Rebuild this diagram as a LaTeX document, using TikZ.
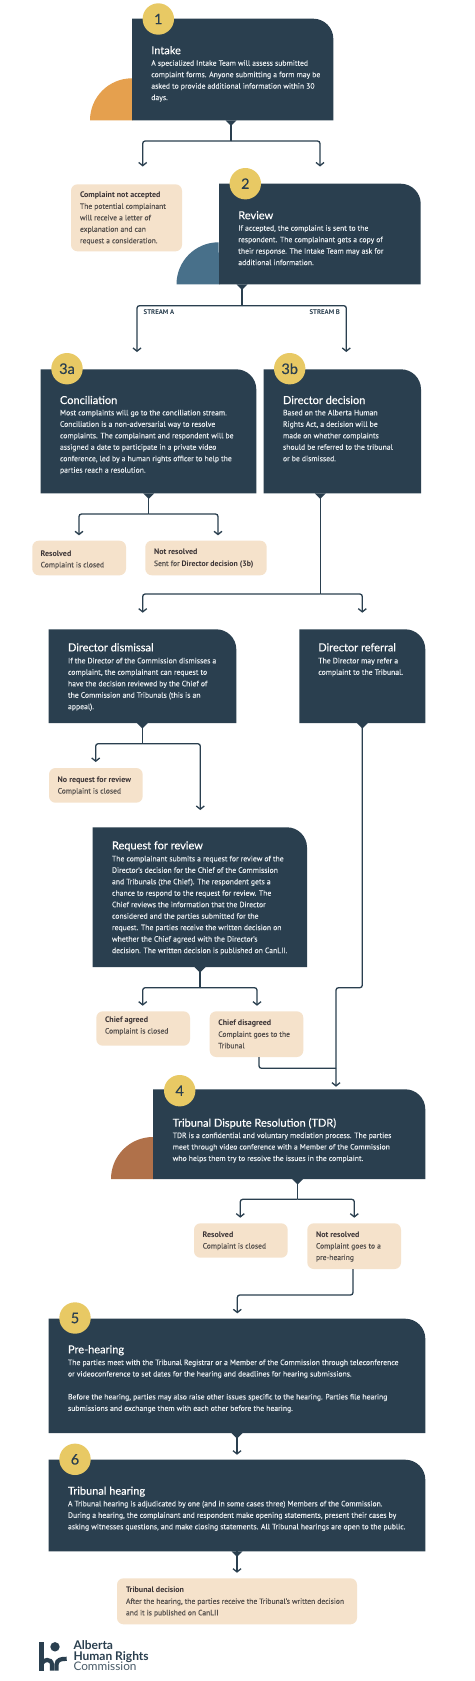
\documentclass[tikz,border=0pt]{standalone}
\usepackage{fontspec}
\usetikzlibrary{arrows.meta,calc}
\setmainfont{PT Sans}
\newfontfamily\headfont[FakeBold=0.35]{Lato}
\newfontfamily\logofont{Lato}
\newfontfamily\bodyfont[FakeBold=0.12]{PT Sans}
\definecolor{navy}{HTML}{2A3F4F}
\definecolor{gold}{HTML}{E8C964}
\definecolor{pale}{HTML}{F5E2CB}
\definecolor{amber}{HTML}{E5A04E}
\definecolor{steel}{HTML}{48708A}
\definecolor{clay}{HTML}{B0714A}
\definecolor{notehead}{HTML}{3A3335}
\definecolor{notetext}{HTML}{55504D}
\definecolor{bodywhite}{HTML}{E9EDF0}
\tikzset{
  txt/.style={anchor=north west,inner sep=0,outer sep=0,align=left},
  bodytxt/.style={txt,text=bodywhite,font=\bodyfont\fontsize{7.7}{11.47}\selectfont},
  titletxt/.style={txt,text=white,font=\headfont\fontsize{11}{13}\selectfont},
  notehd/.style={txt,text=notehead,font=\fontsize{8}{11.47}\selectfont\bfseries},
  notetxt/.style={txt,text=notetext,font=\bodyfont\fontsize{7.6}{11.47}\selectfont},
  numdot/.style={circle,fill=gold,inner sep=0,minimum size=31.4pt,text=navy,font=\headfont\fontsize{14.5}{16}\selectfont},
  palebox/.style={fill=pale,rounded corners=6.5pt,inner sep=0,outer sep=0,anchor=north west},
  shell/.style={inner sep=0,outer sep=0,anchor=north west},
  wire/.style={draw=navy,line width=1.3pt},
  flow/.style={wire,rounded corners=2.5pt},
  tipped/.style={-{Straight Barb[length=3.2pt,width=8pt,line width=1.3pt]}},
  streamlbl/.style={inner sep=0,outer sep=0,text=navy,font=\fontsize{6.8}{8}\selectfont\bfseries},
}
% name, x1, y1, x2, y2, tab x
\newcommand\StepBox[6]{%
  \pgfmathsetmacro\bw{#4-#2}\pgfmathsetmacro\bh{#5-#3}%
  \node[shell,minimum width=\bw pt,minimum height=\bh pt] (#1) at (#2,#3) {};%
  \fill[navy] (#1.south west) -- (#1.north west) -- ($(#1.north east)+(-20,0)$)
    .. controls ($(#1.north east)+(-9,0)$) and ($(#1.north east)+(0,9)$) .. ($(#1.north east)+(0,20)$)
    -- (#1.south east) -- cycle;%
  \fill[navy] (#6-5.5,#5) -- (#6+5.5,#5) -- (#6,#5+5.5) -- cycle;%
  \node[inner sep=0,outer sep=0,minimum size=0pt] (#1tab) at (#6,#5+4) {};%
}
% name, x1, y1, x2, y2
\newcommand\NoteBox[5]{%
  \pgfmathsetmacro\bw{#4-#2}\pgfmathsetmacro\bh{#5-#3}%
  \node[palebox,minimum width=\bw pt,minimum height=\bh pt] (#1) at (#2,#3) {};%
}
% name, style, x, first baseline, text
\newcommand\Txt[5]{\node[#2] (#1) at (#3,#4-9) {\rule{0pt}{9pt}#5};}
\begin{document}
\begin{tikzpicture}[x=1pt,y=-1pt]
\useasboundingbox (0,0) rectangle (474,1681);
\fill[white] (0,0) rectangle (474,1681);
% half discs
\fill[amber] (90,120.3) arc[start angle=180,end angle=270,radius=42] -- (132.5,120.3) -- cycle;
\fill[steel] (176.5,284.3) arc[start angle=180,end angle=270,radius=42] -- (219.5,284.3) -- cycle;
\fill[clay] (111,1179) arc[start angle=180,end angle=270,radius=42] -- (153.5,1179) -- cycle;
% step boxes
\StepBox{intake}{132}{18.7}{333.3}{120.3}{231}
\StepBox{review}{219}{183.7}{420.7}{284.3}{242}
\StepBox{concil}{40.7}{369.3}{256.3}{493.3}{148.7}
\StepBox{decide}{263.7}{369.3}{421}{493.3}{320.3}
\StepBox{dismiss}{48.7}{629.3}{236.3}{723}{142.3}
\StepBox{referral}{299.3}{629.3}{425.3}{723}{362.3}
\StepBox{reqrev}{92.7}{827.3}{307}{967}{200}
\StepBox{tdr}{153}{1089.3}{425.3}{1179}{297.7}
\StepBox{prehear}{48.7}{1318.7}{425.3}{1433}{237}
\StepBox{hearing}{48.7}{1459.7}{425.3}{1551.3}{237}
% number dots
\node[numdot] (n1) at (158.3,19) {1};
\node[numdot] (n2) at (245.3,183.7) {2};
\node[numdot] (n3a) at (67,368.7) {3a};
\node[numdot] (n3b) at (289.7,368.7) {3b};
\node[numdot] (n4) at (179.7,1090.7) {4};
\node[numdot] (n5) at (75,1318) {5};
\node[numdot] (n6) at (75,1459.3) {6};
% note boxes
\NoteBox{notacc}{71}{184.3}{182}{251.3}
\NoteBox{resa}{32.3}{540.7}{126}{575.3}
\NoteBox{nresa}{145.3}{540.7}{266.7}{575.3}
\NoteBox{noreq}{49}{768}{142.7}{802.7}
\NoteBox{agreed}{96.3}{1011.3}{190}{1045.7}
\NoteBox{disagreed}{209.7}{1011.3}{303.3}{1057}
\NoteBox{resd}{194}{1223.3}{287.7}{1257.7}
\NoteBox{nresd}{307.3}{1223.3}{401}{1269}
\NoteBox{verdict}{117}{1578.3}{357}{1624.3}
% titles and bodies
\Txt{t1}{titletxt}{151.3}{54.2}{Intake}
\Txt{b1}{bodytxt}{151.3}{65.7}{A specialized Intake Team will assess submitted\\complaint forms. Anyone submitting a form may be\\asked to provide additional information within 30\\days.}
\Txt{t2}{titletxt}{238.3}{219.2}{Review}
\Txt{b2}{bodytxt}{238.3}{230.7}{If accepted, the complaint is sent to the\\respondent. The complainant gets a copy of\\their response. The Intake Team may ask for\\additional information.}
\Txt{t3a}{titletxt}{60}{404}{Conciliation}
\Txt{b3a}{bodytxt}{60}{415.3}{Most complaints will go to the conciliation stream.\\Conciliation is a non-adversarial way to resolve\\complaints. The complainant and respondent will be\\assigned a date to participate in a private video\\conference, led by a human rights officer to help the\\parties reach a resolution.}
\Txt{t3b}{titletxt}{283}{404}{Director decision}
\Txt{b3b}{bodytxt}{283}{415.3}{Based on the Alberta Human\\Rights Act, a decision will be\\made on whether complaints\\should be referred to the tribunal\\or be dismissed.}
\Txt{tdis}{titletxt}{68}{651.3}{Director dismissal}
\Txt{bdis}{bodytxt}{68}{663.3}{If the Director of the Commission dismisses a\\complaint, the complainant can request to\\have the decision reviewed by the Chief of\\the Commission and Tribunals (this is an\\appeal).}
\Txt{tref}{titletxt}{318.3}{651.3}{Director referral}
\Txt{bref}{bodytxt}{318.3}{663.3}{The Director may refer a\\complaint to the Tribunal.}
\Txt{trr}{titletxt}{112}{849.3}{Request for review}
\Txt{brr}{bodytxt}{112}{861.3}{The complainant submits a request for review of the\\Director’s decision for the Chief of the Commission\\and Tribunals (the Chief). The respondent gets a\\chance to respond to the request for review. The\\Chief reviews the information that the Director\\considered and the parties submitted for the\\request. The parties receive the written decision on\\whether the Chief agreed with the Director’s\\decision. The written decision is published on CanLII.}
\Txt{t4}{titletxt}{172.7}{1126.7}{Tribunal Dispute Resolution (TDR)}
\Txt{b4}{bodytxt}{172.7}{1138}{TDR is a confidential and voluntary mediation process. The parties\\meet through video conference with a Member of the Commission\\who helps them try to resolve the issues in the complaint.}
\Txt{t5}{titletxt}{68}{1353.3}{Pre-hearing}
\Txt{b5}{bodytxt}{68}{1365}{The parties meet with the Tribunal Registrar or a Member of the Commission through teleconference\\or videoconference to set dates for the hearing and deadlines for hearing submissions.\\[11.47pt]Before the hearing, parties may also raise other issues specific to the hearing. Parties file hearing\\submissions and exchange them with each other before the hearing.}
\Txt{t6}{titletxt}{68}{1494.7}{Tribunal hearing}
\Txt{b6}{bodytxt}{68}{1506.3}{A Tribunal hearing is adjudicated by one (and in some cases three) Members of the Commission.\\During a hearing, the complainant and respondent make opening statements, present their cases by\\asking witnesses questions, and make closing statements. All Tribunal hearings are open to the public.}
% notes text
\Txt{h1}{notehd}{80}{197.3}{Complaint not accepted}
\Txt{x1}{notetxt}{80}{208.8}{The potential complainant\\will receive a letter of\\explanation and can\\request a consideration.}
\Txt{h2}{notehd}{40.7}{556}{Resolved}
\Txt{x2}{notetxt}{40.7}{567.3}{Complaint is closed}
\Txt{h3}{notehd}{154}{554.7}{Not resolved}
\Txt{x3}{notetxt}{154}{566}{Sent for {\normalfont\fontsize{7.8}{11.47}\selectfont\bfseries\color{notehead}Director decision (3b)}}
\Txt{h4}{notehd}{57.7}{782}{No request for review}
\Txt{x4}{notetxt}{57.7}{793.5}{Complaint is closed}
\Txt{h5}{notehd}{105}{1022}{Chief agreed}
\Txt{x5}{notetxt}{105}{1033.5}{Complaint is closed}
\Txt{h6}{notehd}{218.3}{1025.3}{Chief disagreed}
\Txt{x6}{notetxt}{218.3}{1036.8}{Complaint goes to the\\Tribunal}
\Txt{h7}{notehd}{202.7}{1237}{Resolved}
\Txt{x7}{notetxt}{202.7}{1248.5}{Complaint is closed}
\Txt{h8}{notehd}{316}{1237}{Not resolved}
\Txt{x8}{notetxt}{316}{1248.5}{Complaint goes to a\\pre-hearing}
\Txt{h9}{notehd}{126}{1592.3}{Tribunal decision}
\Txt{x9}{notetxt}{126}{1603.8}{After the hearing, the parties receive the Tribunal’s written decision\\and it is published on CanLII}
\node[streamlbl,anchor=base west] (sa) at (143.7,314) {STREAM A};
\node[streamlbl,anchor=base east] (sb) at (340,314) {STREAM B};
% connector end points and joints
\coordinate (j1) at (231,141);
\coordinate (e1l) at (142.7,166.5);
\coordinate (e1r) at (320,166.5);
\coordinate (j2) at (242,305.7);
\coordinate (e2l) at (137,352);
\coordinate (e2r) at (346.3,352);
\coordinate (j3) at (148.7,514);
\coordinate (e3l) at (79,535.3);
\coordinate (e3r) at (218,535.3);
\coordinate (j4) at (320.3,594);
\coordinate (e4l) at (142.7,612.7);
\coordinate (e4r) at (362.3,612.7);
\coordinate (j5) at (142.3,743.7);
\coordinate (e5l) at (95.7,762);
\coordinate (e5r) at (200.3,810);
\coordinate (j6) at (200,987.7);
\coordinate (e6l) at (142.7,1005.7);
\coordinate (e6r) at (257,1005.7);
\coordinate (j7) at (362.3,987.7);
\coordinate (e7) at (336,1086.7);
\coordinate (j8) at (297.7,1199.3);
\coordinate (e8l) at (240.3,1217.7);
\coordinate (e8r) at (354.3,1217.7);
\coordinate (j9) at (353,1295);
\coordinate (e9) at (237.3,1313.3);
\coordinate (e10) at (237,1454.7);
\coordinate (e11) at (237,1572.7);
% connectors
\draw[wire] (intaketab) -- (j1);
\draw[flow,tipped] (j1) -| (e1l);
\draw[flow,tipped] (j1) -| (e1r);
\draw[wire] (reviewtab) -- (j2);
\draw[flow,tipped] (j2) -| (e2l);
\draw[flow,tipped] (j2) -| (e2r);
\draw[wire] (conciltab) -- (j3);
\draw[flow,tipped] (j3) -| (e3l);
\draw[flow,tipped] (j3) -| (e3r);
\draw[wire] (decidetab) -- (j4);
\draw[flow,tipped] (j4) -| (e4l);
\draw[flow,tipped] (j4) -| (e4r);
\draw[wire] (dismisstab) -- (j5);
\draw[flow,tipped] (j5) -| (e5l);
\draw[flow,tipped] (j5) -| (e5r);
\draw[wire] (reqrevtab) -- (j6);
\draw[flow,tipped] (j6) -| (e6l);
\draw[flow,tipped] (j6) -| (e6r);
\draw[flow,tipped] (referraltab) -- (j7) -| (e7);
\draw[flow] (disagreed.south -| 259,0) |- (336,1068.3);
\draw[wire] (tdrtab) -- (j8);
\draw[flow,tipped] (j8) -| (e8l);
\draw[flow,tipped] (j8) -| (e8r);
\draw[flow,tipped] (nresd.south -| j9) -- (j9) -| (e9);
\draw[wire,tipped] (prehear.south -| e10) -- (e10);
\draw[wire,tipped] (hearing.south -| e11) -- (e11);
% logo
\fill[navy] (39.3,1642) rectangle (43.6,1670.7);
\fill[navy] (55,1646.8) circle[radius=4.7];
\draw[navy,line width=4.2pt] (41.5,1664) .. controls (43,1659) and (51.5,1658) .. (52,1664.5) -- (52,1670.7);
\draw[navy,line width=4.2pt] (56.5,1670.7) -- (56.5,1664.5) .. controls (57,1659.5) and (61,1658.8) .. (66.7,1658.8);
\node[inner sep=0,anchor=base west,text=navy,font=\logofont\fontsize{12}{13}\selectfont\bfseries] (la) at (73.3,1649.3) {Alberta};
\node[inner sep=0,anchor=base west,text=navy,font=\logofont\fontsize{12}{13}\selectfont\bfseries] (lb) at (73.3,1660) {Human Rights};
\node[inner sep=0,anchor=base west,text=navy!85,font=\logofont\fontsize{11.8}{13}\selectfont] (lc) at (73.3,1670.3) {Commission};
\end{tikzpicture}
\end{document}
